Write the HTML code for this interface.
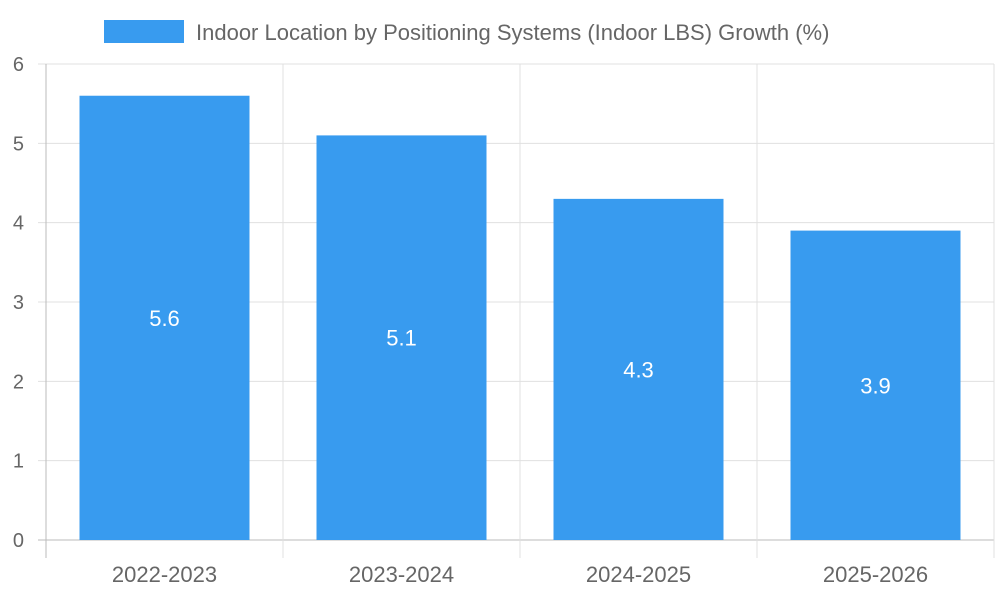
<!DOCTYPE html>
<html><head><meta charset="utf-8"><style>
body{margin:0;background:#fff;}
svg{display:block;font-family:"Liberation Sans",sans-serif;}
</style></head><body>
<svg id="c" width="1000" height="600"></svg>
<script>
const categories=["2022-2023","2023-2024","2024-2025","2025-2026"];
const values=[5.6,5.1,4.3,3.9];
const yTicks=[0,1,2,3,4,5,6];
const seriesLabel="Indoor Location by Positioning Systems (Indoor LBS) Growth (%)";
const L=46,R=994,T=64,B=540,yMax=6;
const svg=document.getElementById('c');
const NS="http://www.w3.org/2000/svg";
function y(v){return B-(v/yMax)*(B-T);}
const bw=(R-L)/categories.length;
function x(i){return L+bw*i;}
function mk(t,a,p){const e=document.createElementNS(NS,t);for(const k in a)e.setAttribute(k,a[k]);(p||svg).appendChild(e);return e;}
// legend
const lr=mk('rect',{x:104,y:20,width:80,height:23,fill:'#389bef'});


const lt=mk('text',{x:196,y:40,'font-size':22,fill:'#666'});lt.textContent=seriesLabel;


// grid
yTicks.forEach(t=>{
  const g=mk('line',{x1:L-8,x2:R,y1:y(t),y2:y(t),stroke:t===0?'#bbb':'#e0e0e0','stroke-width':1});
  
  
  const tx=mk('text',{x:24,y:y(t)+7,'font-size':20,fill:'#666','text-anchor':'end'});tx.textContent=t;
  
  
});
for(let i=0;i<=categories.length;i++){
  const g=mk('line',{x1:x(i),x2:x(i),y1:T,y2:B+18,stroke:i===0?'#bbb':'#e0e0e0','stroke-width':1});
  
  
}
categories.forEach((c,i)=>{
  const cx=x(i)+bw/2,w=170;
  const r=mk('rect',{x:cx-w/2,y:y(values[i]),width:w,height:B-y(values[i]),fill:'#389bef'});
  
  
  const v=mk('text',{x:cx,y:(y(values[i])+B)/2+8,'font-size':22,fill:'#fff','text-anchor':'middle'});v.textContent=values[i];
  
  
  const xl=mk('text',{x:cx,y:582,'font-size':22,fill:'#666','text-anchor':'middle'});xl.textContent=c;
  
  
});
</script>
</body></html>
